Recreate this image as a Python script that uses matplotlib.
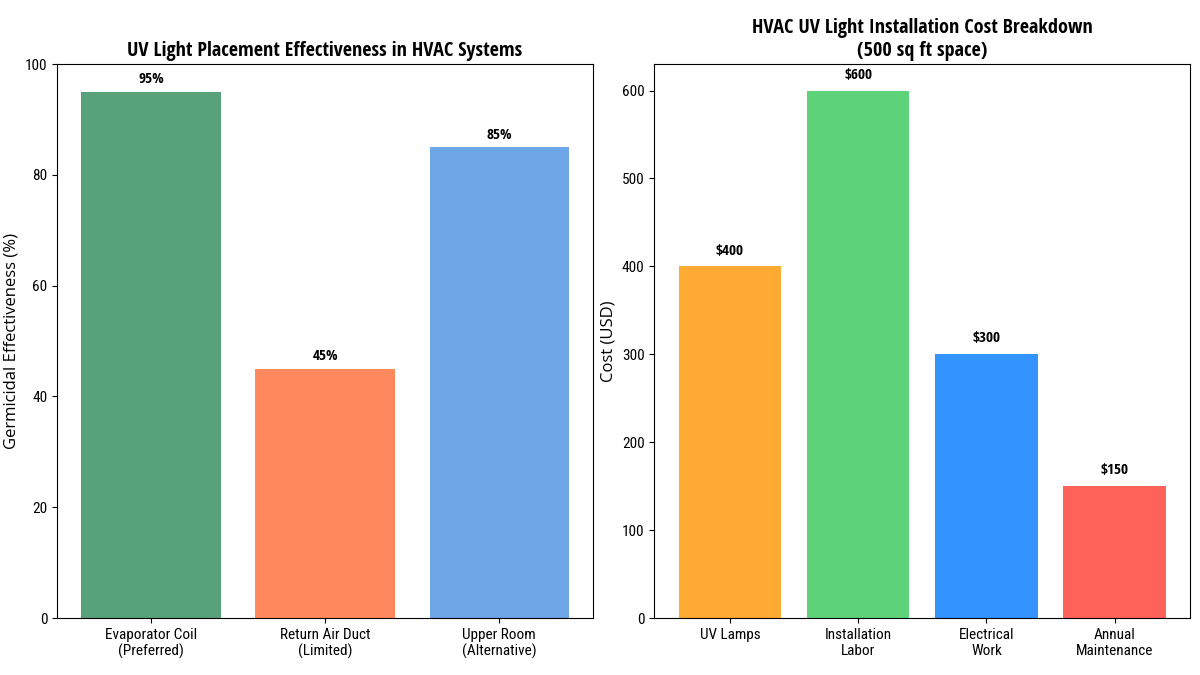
import matplotlib
matplotlib.use('Agg')
import matplotlib.pyplot as plt

# data
placements = ['Evaporator Coil\n(Preferred)', 'Return Air Duct\n(Limited)', 'Upper Room\n(Alternative)']
effectiveness = [95, 45, 85]
placement_colors = ['#2E8B57', '#FF6B35', '#4A90E2']

cost_items = ['UV Lamps', 'Installation\nLabor', 'Electrical\nWork', 'Annual\nMaintenance']
costs = [400, 600, 300, 150]
cost_colors = ['#FF9500', '#34C759', '#007AFF', '#FF3B30']

# condensed look of the reference
tick_font = dict(family='Roboto Condensed', weight='normal', size=11)
bold_font = dict(family='Open Sans Condensed', weight='bold')
label_font = dict(family='Open Sans', size=12)

fig, (ax1, ax2) = plt.subplots(1, 2, figsize=(12, 6.75), dpi=100)
plt.subplots_adjust(left=0.0475, right=0.992, top=0.905, bottom=0.0844, wspace=0.1136)

bars = ax1.bar(placements, effectiveness, color=placement_colors, alpha=0.8)
ax1.set_ylim(0, 100)
ax1.set_ylabel('Germicidal Effectiveness (%)', **label_font)
ax1.set_title('UV Light Placement Effectiveness in HVAC Systems', size=14.5, **bold_font)
for b, v in zip(bars, effectiveness):
    ax1.text(b.get_x() + b.get_width() / 2, v + 1, f'{v}%', ha='center', va='bottom',
             size=11, **bold_font)

bars = ax2.bar(cost_items, costs, color=cost_colors, alpha=0.8)
ax2.set_ylabel('Cost (USD)', **label_font)
ax2.set_title('HVAC UV Light Installation Cost Breakdown\n(500 sq ft space)', size=14.5, **bold_font)
for b, v in zip(bars, costs):
    ax2.text(b.get_x() + b.get_width() / 2, v + 10, f'${v}', ha='center', va='bottom',
             size=11, **bold_font)

for ax in (ax1, ax2):
    for lbl in ax.get_xticklabels() + ax.get_yticklabels():
        lbl.set(**tick_font)

plt.savefig('out.png')
